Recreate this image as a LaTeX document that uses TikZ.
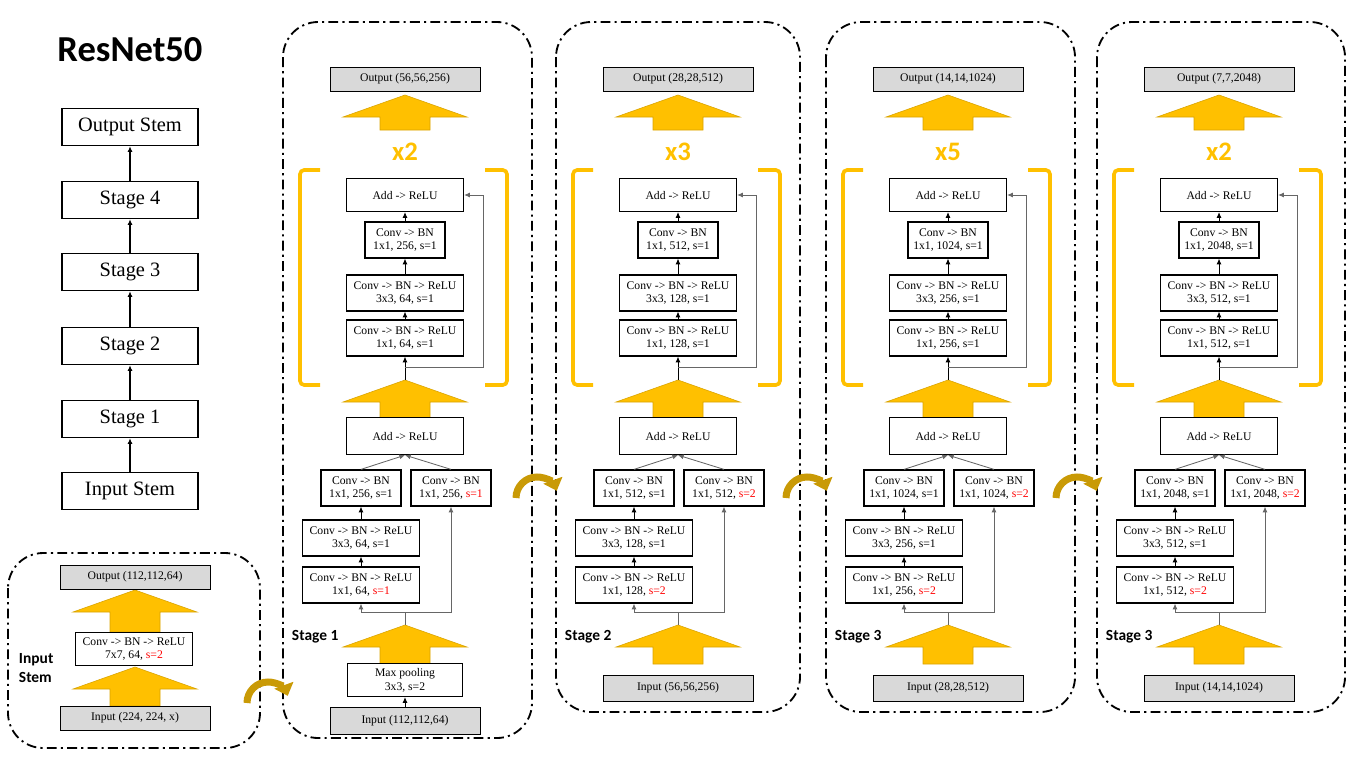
\documentclass[tikz,border=0pt]{standalone}
\usepackage{fontspec}
\setmainfont{Liberation Serif}
\setsansfont{Carlito}
\usetikzlibrary{arrows.meta,positioning}
\definecolor{yellowA}{HTML}{FFC000}
\definecolor{yellowD}{HTML}{D9A300}
\definecolor{goldD}{HTML}{C99A06}
\definecolor{greyF}{HTML}{D9D9D9}
\newcommand\px[1]{#1*0.025cm}
% fat yellow arrow: x, tip y, base y
\newcommand\fatup[3]{\fill[fat] (#1,#2) -- (#1+62,#2+22) -- (#1+25,#2+22) -- (#1+25,#3) -- (#1-25,#3) -- (#1-25,#2+22) -- (#1-62,#2+22) -- cycle;}
% id, centre x, output, repeat, mid ch, out ch, stride, label
\newcommand\stagepanel[8]{
\node[gblk, minimum width=\px{150}, minimum height=\px{24}] (#1out) at (#2,79) {#3};
\fatup{#2}{95}{130}
\node[font=\sffamily\bfseries\fontsize{19}{19}\selectfont, text=yellowA] at (#2,152) {x#4};
\draw[brk] (#2-85,170) -- (#2-105,170) -- (#2-105,385) -- (#2-85,385);
\draw[brk] (#2+80,170) -- (#2+102,170) -- (#2+102,385) -- (#2+80,385);
\fatup{#2}{380}{418}
\fatup{#2}{625}{664}
\node[blk, minimum width=\px{117}, minimum height=\px{33}] (#1add) at (#2,195) {Add -> ReLU};
\node[blk, minimum width=\px{80}, minimum height=\px{36}] (#1c3) at (#2,240) {Conv -> BN\\1x1, #6, s=1};
\node[blk, minimum width=\px{117}, minimum height=\px{36}] (#1c2) at (#2,293) {Conv -> BN -> ReLU\\3x3, #5, s=1};
\node[blk, minimum width=\px{117}, minimum height=\px{36}] (#1c1) at (#2,338) {Conv -> BN -> ReLU\\1x1, #5, s=1};
\coordinate (#1tip) at (#2,380);
\coordinate (#1j) at (#2,367);
\coordinate (#1k) at (#2+78,367);
\draw[lnk] (#1tip) -- (#1c1);
\draw[lnk] (#1c1) -- (#1c2);
\draw[lnk] (#1c2) -- (#1c3);
\draw[lnk] (#1c3) -- (#1add);
\draw[lnk, draw=gray!80!black] (#1j) -- (#1k) |- (#1add.east);
\node[blk, minimum width=\px{117}, minimum height=\px{37}] (#1add2) at (#2,436) {Add -> ReLU};
\node[blk, minimum width=\px{80}, minimum height=\px{36}] (#1L) at (#2-44,488) {Conv -> BN\\1x1, #6, s=1};
\node[blk, minimum width=\px{80}, minimum height=\px{36}] (#1R) at (#2+46,488) {Conv -> BN\\1x1, #6, \textcolor{red}{s=#7}};
\node[blk, minimum width=\px{117}, minimum height=\px{36}] (#1L2) at (#2-44,538) {Conv -> BN -> ReLU\\3x3, #5, s=1};
\node[blk, minimum width=\px{117}, minimum height=\px{36}] (#1L1) at (#2-44,585) {Conv -> BN -> ReLU\\1x1, #5, \textcolor{red}{s=#7}};
\coordinate (#1b) at (#2,612);
\coordinate (#1btip) at (#2,625);
\draw[lnk] (#1L1) -- (#1L2);
\draw[lnk] (#1L2) -- (#1L);
\draw[lnk, draw=gray!80!black] (#1L.north) -- (#1add2.south);
\draw[lnk, draw=gray!80!black] (#1R.north) -- (#1add2.south);
\draw[gray!80!black, line width=0.5pt] (#1btip) -- (#1b);
\draw[lnk, draw=gray!80!black] (#1b) -| (#1L1.south);
\draw[lnk, draw=gray!80!black] (#1b) -| (#1R.south);
\node[lbl, anchor=west] at (#2-118,637) {#8};
}
\begin{document}
\begin{tikzpicture}[x=0.025cm, y=-0.025cm,
blk/.style ={draw, line width=0.9pt, fill=white, align=center,
  font=\rmfamily\fontsize{8.3}{9.8}\selectfont, inner sep=1pt
},
gblk/.style ={blk, fill=greyF, line width=0.6pt},
stem/.style ={draw, line width=1pt, fill=white,
  font=\rmfamily\fontsize{14.5}{14.5}\selectfont,
  minimum width=\px{136}, minimum height=\px{37}
},
panel/.style ={draw, line width=1.3pt, rounded corners=25pt,
  dash pattern=on 7pt off 3pt on 1.5pt off 3pt
},
fat/.style ={fill=yellowA, draw=yellowD, line width=0.4pt},
brk/.style ={draw=yellowA, line width=2.6pt, rounded corners=3pt},
lnk/.style ={-{Latex[length=4pt,width=3.5pt]}, line width=0.6pt},
curl/.style ={draw=goldD, line width=5pt, -{Triangle[length=8pt,width=14pt]}},
lbl/.style ={font=\sffamily\bfseries\fontsize{11}{13}\selectfont, align=left}]
\useasboundingbox (0,0) rectangle (1358,771);
% frames
\draw[panel] (8,553) rectangle (260,748);
\draw[panel] (283,22) rectangle (532,738);
\draw[panel] (556,22) rectangle (800,712);
\draw[panel] (826,22) rectangle (1075,712);
\draw[panel] (1097,22) rectangle (1345,712);
% overview
\node[font=\sffamily\bfseries\fontsize{26}{26}\selectfont] (title) at (130,50) {ResNet50};
\node[stem] (st6) at (130,127) {Output Stem};
\node[stem] (st5) at (130,200) {Stage 4};
\node[stem] (st4) at (130,272) {Stage 3};
\node[stem] (st3) at (130,346) {Stage 2};
\node[stem] (st2) at (130,419) {Stage 1};
\node[stem] (st1) at (130,491) {Input Stem};
\foreach \i/\j in {st1/st2,st2/st3,st3/st4,st4/st5,st5/st6}
  \draw[lnk, line width=1.2pt] (\i) -- (\j);
% input stem
\fatup{135}{590}{632}
\fatup{135}{667}{706}
\node[gblk, minimum width=\px{150}, minimum height=\px{24}] (sout) at (135,577) {Output (112,112,64)};
\node[blk, minimum width=\px{117}, minimum height=\px{33}] (sconv) at (134,649) {Conv -> BN -> ReLU\\7x7, 64, \textcolor{red}{s=2}};
\node[gblk, minimum width=\px{150}, minimum height=\px{24}] (sin) at (135,718) {Input (224, 224, x)};
\node[lbl, anchor=west] at (14,668) {Input\\Stem};
% stages
\stagepanel{a}{405}{Output (56,56,256)}{2}{64}{256}{1}{Stage 1}
\stagepanel{b}{678}{Output (28,28,512)}{3}{128}{512}{2}{Stage 2}
\stagepanel{c}{948}{Output (14,14,1024)}{5}{256}{1024}{2}{Stage 3}
\stagepanel{d}{1219}{Output (7,7,2048)}{2}{512}{2048}{2}{Stage 3}
% inputs
\node[blk, minimum width=\px{115}, minimum height=\px{33}] (apool) at (405,680) {Max pooling\\3x3, s=2};
\node[gblk, minimum width=\px{150}, minimum height=\px{27}] (ain) at (405,721) {Input (112,112,64)};
\draw[lnk] (ain) -- (apool);
\node[gblk, minimum width=\px{150}, minimum height=\px{26}] (bin) at (678,688) {Input (56,56,256)};
\node[gblk, minimum width=\px{150}, minimum height=\px{26}] (cin) at (948,688) {Input (28,28,512)};
\node[gblk, minimum width=\px{150}, minimum height=\px{26}] (din) at (1219,688) {Input (14,14,1024)};
% curls between panels
\foreach \cx/\cy in {268/703, 537/498, 807/498, 1077/498}
  \draw[curl] (\cx-21,\cy) arc[start angle=180, end angle=340, radius=21];
\end{tikzpicture}
\end{document}
